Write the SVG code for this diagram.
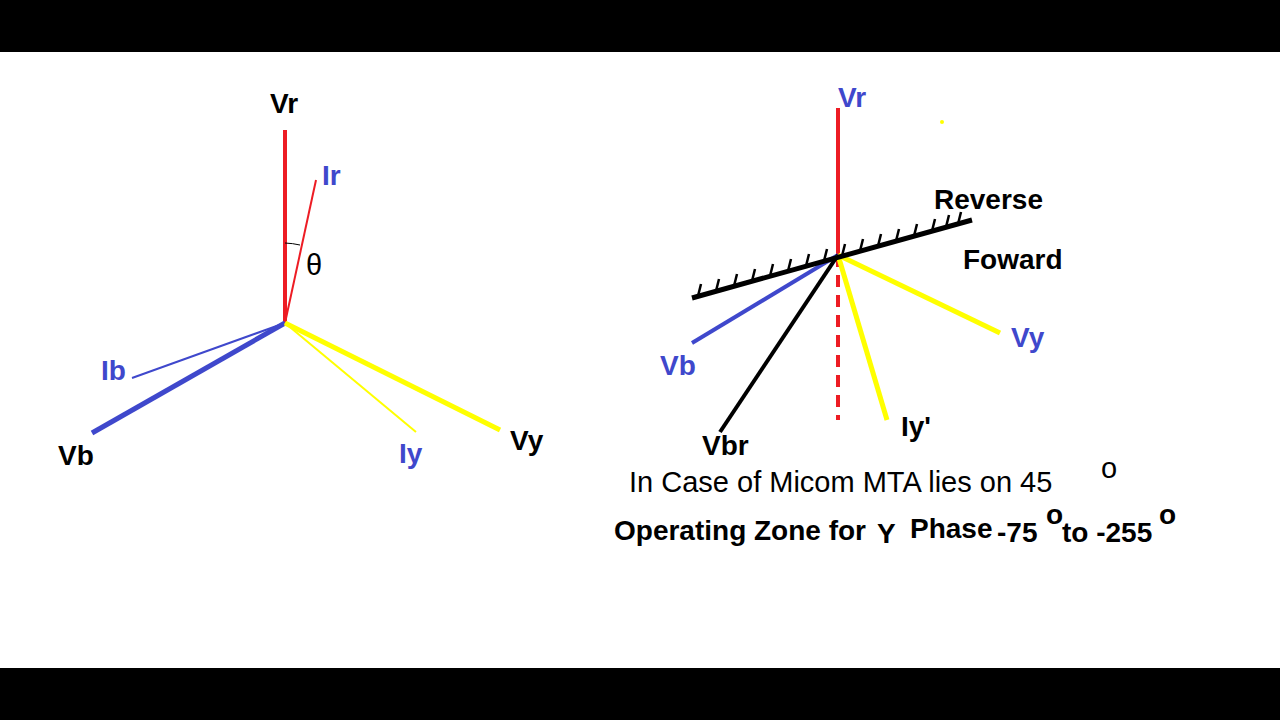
<svg xmlns="http://www.w3.org/2000/svg" width="1280" height="720" viewBox="0 0 1280 720">
<style>
.t{font-family:"Liberation Sans",Arial,sans-serif;font-weight:bold;font-size:28px}
.n{font-family:"Liberation Sans",Arial,sans-serif;font-size:29px}
.b{fill:#3f48cc}.k{fill:#000}
</style>
<rect width="1280" height="720" fill="#fff"/>
<rect width="1280" height="52" fill="#000"/>
<rect y="668" width="1280" height="52" fill="#000"/>
<g id="connectors" stroke-linecap="butt" fill="none">
<line x1="285" y1="323" x2="285" y2="130" stroke="#ed1c24" stroke-width="4"/>
<line x1="285" y1="323" x2="316" y2="180" stroke="#ed1c24" stroke-width="2"/>
<path d="M285 243 A80 80 0 0 1 300 245" stroke="#000" stroke-width="1"/>
<line x1="285" y1="323" x2="132" y2="378" stroke="#3f48cc" stroke-width="2"/>
<line x1="285" y1="323" x2="92" y2="433" stroke="#3f48cc" stroke-width="5"/>
<line x1="285" y1="323" x2="416" y2="432" stroke="#ffff00" stroke-width="2"/>
<line x1="285" y1="323" x2="500" y2="430" stroke="#ffff00" stroke-width="5"/>
<line x1="838" y1="255" x2="838" y2="108" stroke="#ed1c24" stroke-width="4"/>
<line x1="838" y1="255" x2="838" y2="420" stroke="#ed1c24" stroke-width="4" stroke-dasharray="12 8"/>
<line x1="838" y1="255" x2="692" y2="343" stroke="#3f48cc" stroke-width="4"/>
<line x1="838" y1="255" x2="720" y2="432" stroke="#000" stroke-width="4"/>
<line x1="838" y1="255" x2="887" y2="420" stroke="#ffff00" stroke-width="5"/>
<line x1="838" y1="255" x2="1000" y2="333" stroke="#ffff00" stroke-width="5"/>
<line x1="692" y1="298" x2="972" y2="220" stroke="#000" stroke-width="5"/>
<path stroke="#000" stroke-width="2.5" d="M698 296 l3 -12 M716 291 l3 -12 M734 286 l3 -12 M752 281 l3 -12 M770 276 l3 -12 M788 271 l3 -12 M806 266 l3 -12 M824 261 l3 -12 M842 256 l3 -12 M860 251 l3 -12 M878 246 l3 -12 M896 241 l3 -12 M914 236 l3 -12 M932 231 l3 -12 M946 227 l3 -12 M958 224 l3 -12"/>
<circle cx="942" cy="122" r="2" fill="#ffff00"/>
</g>
<g id="left-labels">
<text class="t k" x="270" y="113">Vr</text>
<text class="t b" x="322" y="185">Ir</text>
<text class="n k" x="306" y="275" font-size="26">θ</text>
<text class="t b" x="101" y="380">Ib</text>
<text class="t k" x="58" y="465">Vb</text>
<text class="t b" x="399" y="463">Iy</text>
<text class="t k" x="510" y="450">Vy</text>
</g>
<g id="right-labels">
<text class="t b" x="838" y="107">Vr</text>
<text class="t k" x="934" y="209">Reverse</text>
<text class="t k" x="963" y="269">Foward</text>
<text class="t b" x="1011" y="347">Vy</text>
<text class="t b" x="660" y="375">Vb</text>
<text class="t k" x="702" y="455">Vbr</text>
<text class="t k" x="901" y="436">Iy'</text>
<text class="n k" x="629" y="492">In Case of Micom MTA lies on 45</text>
<text class="n k" x="1101" y="478" font-size="18">o</text>
<text class="t k" x="614" y="540" font-size="25">Operating Zone for</text>
<text class="t k" x="877" y="543" font-size="25">Y</text>
<text class="t k" x="910" y="538" font-size="25">Phase</text>
<text class="t k" x="997" y="542" font-size="27">-75</text>
<text class="t k" x="1046" y="524" font-size="16">o</text>
<text class="t k" x="1062" y="542" font-size="27">to -255</text>
<text class="t k" x="1159" y="524" font-size="16">o</text>
</g>
</svg>
